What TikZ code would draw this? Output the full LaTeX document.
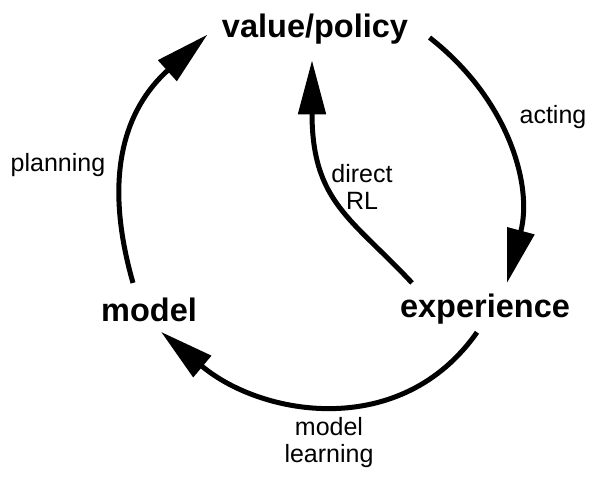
\documentclass[tikz,border=0pt]{standalone}
\usepackage{fontspec}
\setmainfont{Liberation Sans}
\usetikzlibrary{arrows.meta}

\begin{document}
\begin{tikzpicture}[x=1pt,y=1pt,
  state/.style={font=\fontsize{32.5}{39}\selectfont\bfseries, anchor=base},
  lbl/.style={font=\fontsize{25}{27.5}\selectfont, anchor=base, align=center},
  arr/.style={line width=5pt, -{Triangle[length=54pt,width=27pt]}}]
\useasboundingbox (0,0) rectangle (600,484);

% states
\node[state] (vp) at (315,446) {value/policy};
\node[state] (model) at (149,162) {model};
\node[state] (exp) at (485,166) {experience};

% labels
\node[lbl] (acting) at (553,360) {acting};
\node[lbl] (planning) at (58,312) {planning};
\node[lbl] (direct) at (362,274) {direct\\RL};
\node[lbl] (learning) at (329,21) {model\\learning};

% acting
\draw[arr] ([xshift=18pt,yshift=-8pt]vp.east) to[out=-38,in=75]
  ([xshift=22pt,yshift=8pt]exp.north);
% direct RL (curve ends at the base of the head)
\draw[arr,shorten >=-54pt] ([xshift=-73pt,yshift=8pt]exp.north)
  to[out=133,in=-90,looseness=1.15] ([xshift=-3pt,yshift=-66pt]vp.south);
% model learning
\draw[arr] ([xshift=-8pt,yshift=-4pt]exp.south) to[out=-125,in=-40,looseness=1.07]
  ([xshift=12pt,yshift=-6pt]model.south);
% planning
\draw[arr] ([xshift=-16pt,yshift=12pt]model.north) to[out=106,in=222,looseness=1.1]
  ([xshift=-11pt,yshift=-5pt]vp.west);

\end{tikzpicture}
\end{document}
